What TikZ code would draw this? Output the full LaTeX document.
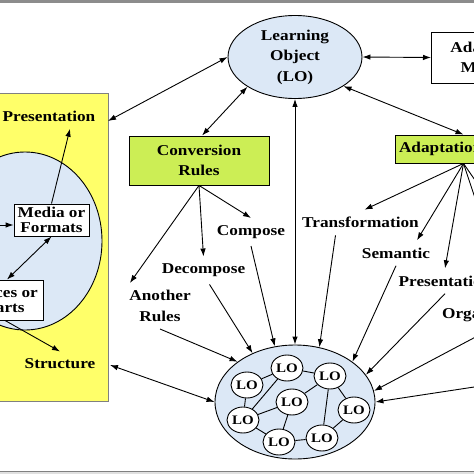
\documentclass[tikz,border=0pt]{standalone}
\usepackage{fontspec}
\setmainfont{Liberation Serif}[FakeStretch=1.15]
\usetikzlibrary{shapes.geometric, arrows.meta}
\definecolor{panelyellow}{RGB}{255,255,105}
\definecolor{lightblue}{RGB}{220,232,246}
\definecolor{rulegreen}{RGB}{204,238,85}
\newcommand{\tightsz}{\fontsize{15}{15}\selectfont}
\newcommand{\loosesz}{\fontsize{15}{20.5}\selectfont}

\begin{document}
\begin{tikzpicture}[x=1pt,y=1pt,yscale=-1,line width=0.9pt,
    every node/.style={font=\bfseries\loosesz},
    txt/.style={inner xsep=2pt, inner ysep=7pt, align=center},
    wbox/.style={draw, fill=white, align=center, inner sep=2pt},
    gbox/.style={draw, fill=rulegreen, align=center, inner sep=2pt},
    lo/.style={ellipse, draw, fill=white, minimum width=32pt, minimum height=26pt, inner sep=0pt, font=\bfseries\fontsize{13}{13}\selectfont},
    arr/.style={-{Latex[length=8pt,width=5.5pt]}, line width=0.9pt},
    darr/.style={{Latex[length=8pt,width=5.5pt]}-{Latex[length=8pt,width=5.5pt]}, line width=0.9pt}]
    \useasboundingbox (0,0) rectangle (474,474);
    \clip (0,0) rectangle (474,474);

    % frame bands
    \fill[black!45] (0,0) rectangle (474,3);
    \fill[black!12] (0,471) rectangle (474,474);
    \draw[black!50] (0,471.5) -- (474,471.5);

    % left panel
    \draw[draw=black!50, fill=panelyellow] (-10,93) rectangle (108,401);
    \draw[fill=lightblue] (25,241) ellipse [x radius=77, y radius=89];
    \node[txt] (presL) at (49,116) {Presentation};
    \node[txt] (struct) at (60,364) {Structure};
    \node[wbox, minimum width=75pt, minimum height=32pt, font=\bfseries\tightsz] (media) at (51.5,220) {Media or\\Formats};
    \node[wbox, minimum width=76pt, minimum height=40pt, font=\bfseries\tightsz] (pieces) at (5,300) {Pieces or\\Parts};
    \coordinate (srcL) at (-30,225);
    \coordinate (pTop) at (108,121);
    \coordinate (pBot) at (110,365);

    % Learning object and boxes
    \node[ellipse, draw, fill=lightblue, minimum width=134pt, minimum height=83pt, inner sep=0pt, align=center] (lo) at (295,57) {Learning\\Object\\(LO)};
    \node[wbox, anchor=west, minimum height=51pt, inner xsep=19pt] (model) at (431,57.5) {Adaptive\\Model};
    \node[gbox, minimum width=140pt, minimum height=49pt] (conv) at (199,160.5) {Conversion\\Rules};
    \node[gbox, minimum height=28pt, inner xsep=4pt] (adapt) at (463.5,149) {Adaptation Rules};

    % rule labels
    \node[txt] (another) at (160,306) {Another\\Rules};
    \node[txt] (decomp) at (203.5,270.5) {Decompose};
    \node[txt] (comp) at (251,232) {Compose};
    \node[txt] (transf) at (360.5,222.5) {Transformation};
    \node[txt] (seman) at (396,253) {Semantic};
    \node[txt] (presR) at (445,281) {Presentation};
    \node[txt] (orga) at (491,314.5) {Organization};
    \coordinate (offA) at (521,247);
    \coordinate (offB) at (498,267);
    \coordinate (srcR) at (540,377);

    % LO cluster
    \node[ellipse, draw, fill=lightblue, minimum width=160pt, minimum height=114pt] (clu) at (295,402) {};
    \node[lo] (l1) at (247,385) {LO};
    \node[lo] (l2) at (287,368) {LO};
    \node[lo] (l3) at (330,376) {LO};
    \node[lo] (l4) at (292,402) {LO};
    \node[lo] (l5) at (354,410) {LO};
    \node[lo] (l6) at (243,420) {LO};
    \node[lo] (l7) at (279,442) {LO};
    \node[lo] (l8) at (322,438) {LO};
    \foreach \a/\b in {l1/l2, l1/l6, l2/l3, l2/l6, l3/l4, l3/l5, l3/l8, l4/l6, l4/l7, l5/l8, l6/l7, l7/l8}
        \draw (\a) -- (\b);

    % left panel arrows
    \draw[arr] (srcL) -- (srcL -| media.west);
    \draw[arr] (media.north) -- ([xshift=21pt]presL.south);
    \draw[darr] (media.south) -- ([xshift=2pt]pieces.north);
    \draw[arr] (pieces.south) -- (struct.north);

    % links of the learning object
    \draw[darr] (pTop) -- (lo.west);
    \draw[darr] (pBot) -- (clu.west);
    \draw[darr] (lo.east) -- (model.west);
    \draw[darr] (lo.212) -- ([xshift=3pt]conv.north);
    \draw[darr] (lo.-31) -- (adapt.north);
    \draw[darr] (lo.south) -- (clu.north);

    % conversion rules
    \draw[arr] (conv.south) -- ([xshift=3pt]another.north west);
    \draw[arr] (conv.south) -- (decomp.north);
    \draw[arr] (conv.south) -- (comp.north);

    % adaptation rules
    \draw[arr] (adapt.south) -- ([xshift=4pt]transf.north);
    \draw[arr] (adapt.south) -- ([xshift=21pt]seman.north);
    \draw[arr] (adapt.south) -- (presR.north);
    \draw[arr] (adapt.south) -- (offA);
    \draw[arr] (adapt.south) -- (offB);

    % into the cluster
    \draw[arr] (another.south) -- (clu.145);
    \draw[arr] ([xshift=6pt]decomp.south) -- (clu.131);
    \draw[arr] (comp.south) -- (clu.110);
    \draw[arr] ([xshift=-25pt]transf.south) -- (clu.66);
    \draw[arr] (seman.south) -- (clu.35);
    \draw[arr] (presR.south) -- (clu.21);
    \draw[arr] (orga.south) -- (clu.8);
    \draw[arr] (srcR) -- (clu.east);
\end{tikzpicture}
\end{document}
